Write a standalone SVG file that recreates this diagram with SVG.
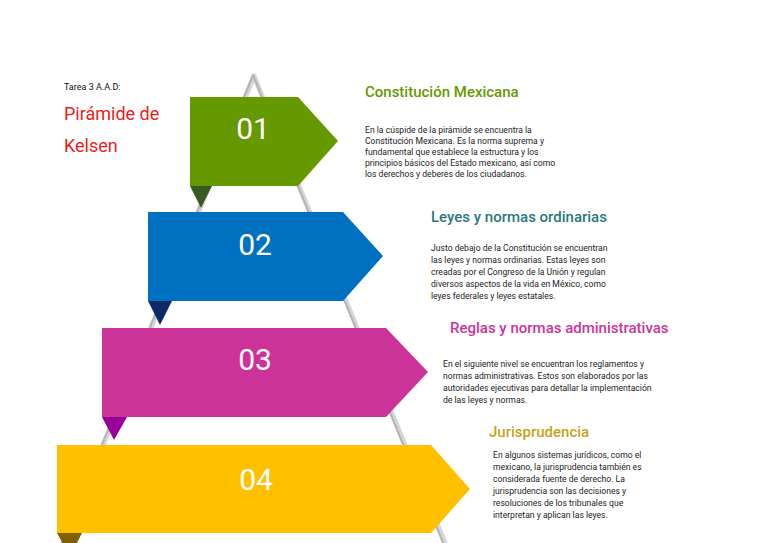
<svg xmlns="http://www.w3.org/2000/svg" width="768" height="543" viewBox="0 0 768 543">
<style>
.num{font-family:Roboto,"Liberation Sans",sans-serif;font-size:30px;fill:#fff;text-anchor:middle}
.t{font-family:Roboto,"Liberation Sans",sans-serif;font-size:15px;font-weight:500}
.b{font-family:Roboto,"Liberation Sans",sans-serif;font-size:8.6px;fill:#222}
</style>
<rect width="768" height="543" fill="#fff"/>
<g id="pyramid" fill="none" stroke-linecap="round">
<path d="M254,76 L56,560 M254,76 L452,560" stroke="#d6d6d6" stroke-width="5"/>
<path d="M253,75 L55,560 M253,75 L450,560" stroke="#b4b4b4" stroke-width="2"/>
</g>
<g id="title" font-family="Roboto,'Liberation Sans',sans-serif">
<text x="64" y="90" font-size="9" fill="#111">Tarea 3 A.A.D:</text>
<text x="64" y="120" font-size="18" fill="#ee1c1c">Pirámide de</text>
<text x="64" y="152" font-size="18" fill="#ee1c1c">Kelsen</text>
</g>
<g id="n1">
<polygon points="190,186 212,186 201,208" fill="#375a1f"/>
<polygon points="190,97 298,97 338,141 298,186 190,186" fill="#669900"/>
<text class="num" x="253" y="139">01</text>
<text class="t" x="365" y="97" fill="#669900">Constitución Mexicana</text>
<text class="b"><tspan x="365" y="133">En la cúspide de la pirámide se encuentra la</tspan><tspan x="365" y="144">Constitución Mexicana. Es la norma suprema y</tspan><tspan x="365" y="155">fundamental que establece la estructura y los</tspan><tspan x="365" y="166">principios básicos del Estado mexicano, así como</tspan><tspan x="365" y="177">los derechos y deberes de los ciudadanos.</tspan></text>
</g>
<g id="n2">
<polygon points="148,301 172,301 160,325" fill="#0d2a66"/>
<polygon points="148,212 343,212 383,256 343,301 148,301" fill="#0070c0"/>
<text class="num" x="255" y="255">02</text>
<text class="t" x="431" y="222" fill="#2a7a78">Leyes y normas ordinarias</text>
<text class="b"><tspan x="431" y="251">Justo debajo de la Constitución se encuentran</tspan><tspan x="431" y="263">las leyes y normas ordinarias. Estas leyes son</tspan><tspan x="431" y="275">creadas por el Congreso de la Unión y regulan</tspan><tspan x="431" y="287">diversos aspectos de la vida en México, como</tspan><tspan x="431" y="299">leyes federales y leyes estatales.</tspan></text>
</g>
<g id="n3">
<polygon points="102,417 127,417 114,440" fill="#990099"/>
<polygon points="102,328 386,328 428,372 386,417 102,417" fill="#cc3399"/>
<text class="num" x="255" y="370">03</text>
<text class="t" x="450" y="333" fill="#cc3399">Reglas y normas administrativas</text>
<text class="b"><tspan x="443" y="367">En el siguiente nivel se encuentran los reglamentos y</tspan><tspan x="443" y="379">normas administrativas. Estos son elaborados por las</tspan><tspan x="443" y="391">autoridades ejecutivas para detallar la implementación</tspan><tspan x="443" y="403">de las leyes y normas.</tspan></text>
</g>
<g id="n4">
<polygon points="57,533 82,533 70,556" fill="#7f6000"/>
<polygon points="57,445 431,445 470,489 431,533 57,533" fill="#ffc000"/>
<text class="num" x="256" y="490">04</text>
<text class="t" x="489" y="437" fill="#c9a21a">Jurisprudencia</text>
<text class="b"><tspan x="493" y="458">En algunos sistemas jurídicos, como el</tspan><tspan x="493" y="470">mexicano, la jurisprudencia también es</tspan><tspan x="493" y="482">considerada fuente de derecho. La</tspan><tspan x="493" y="494">jurisprudencia son las decisiones y</tspan><tspan x="493" y="506">resoluciones de los tribunales que</tspan><tspan x="493" y="518">interpretan y aplican las leyes.</tspan></text>
</g>
</svg>
